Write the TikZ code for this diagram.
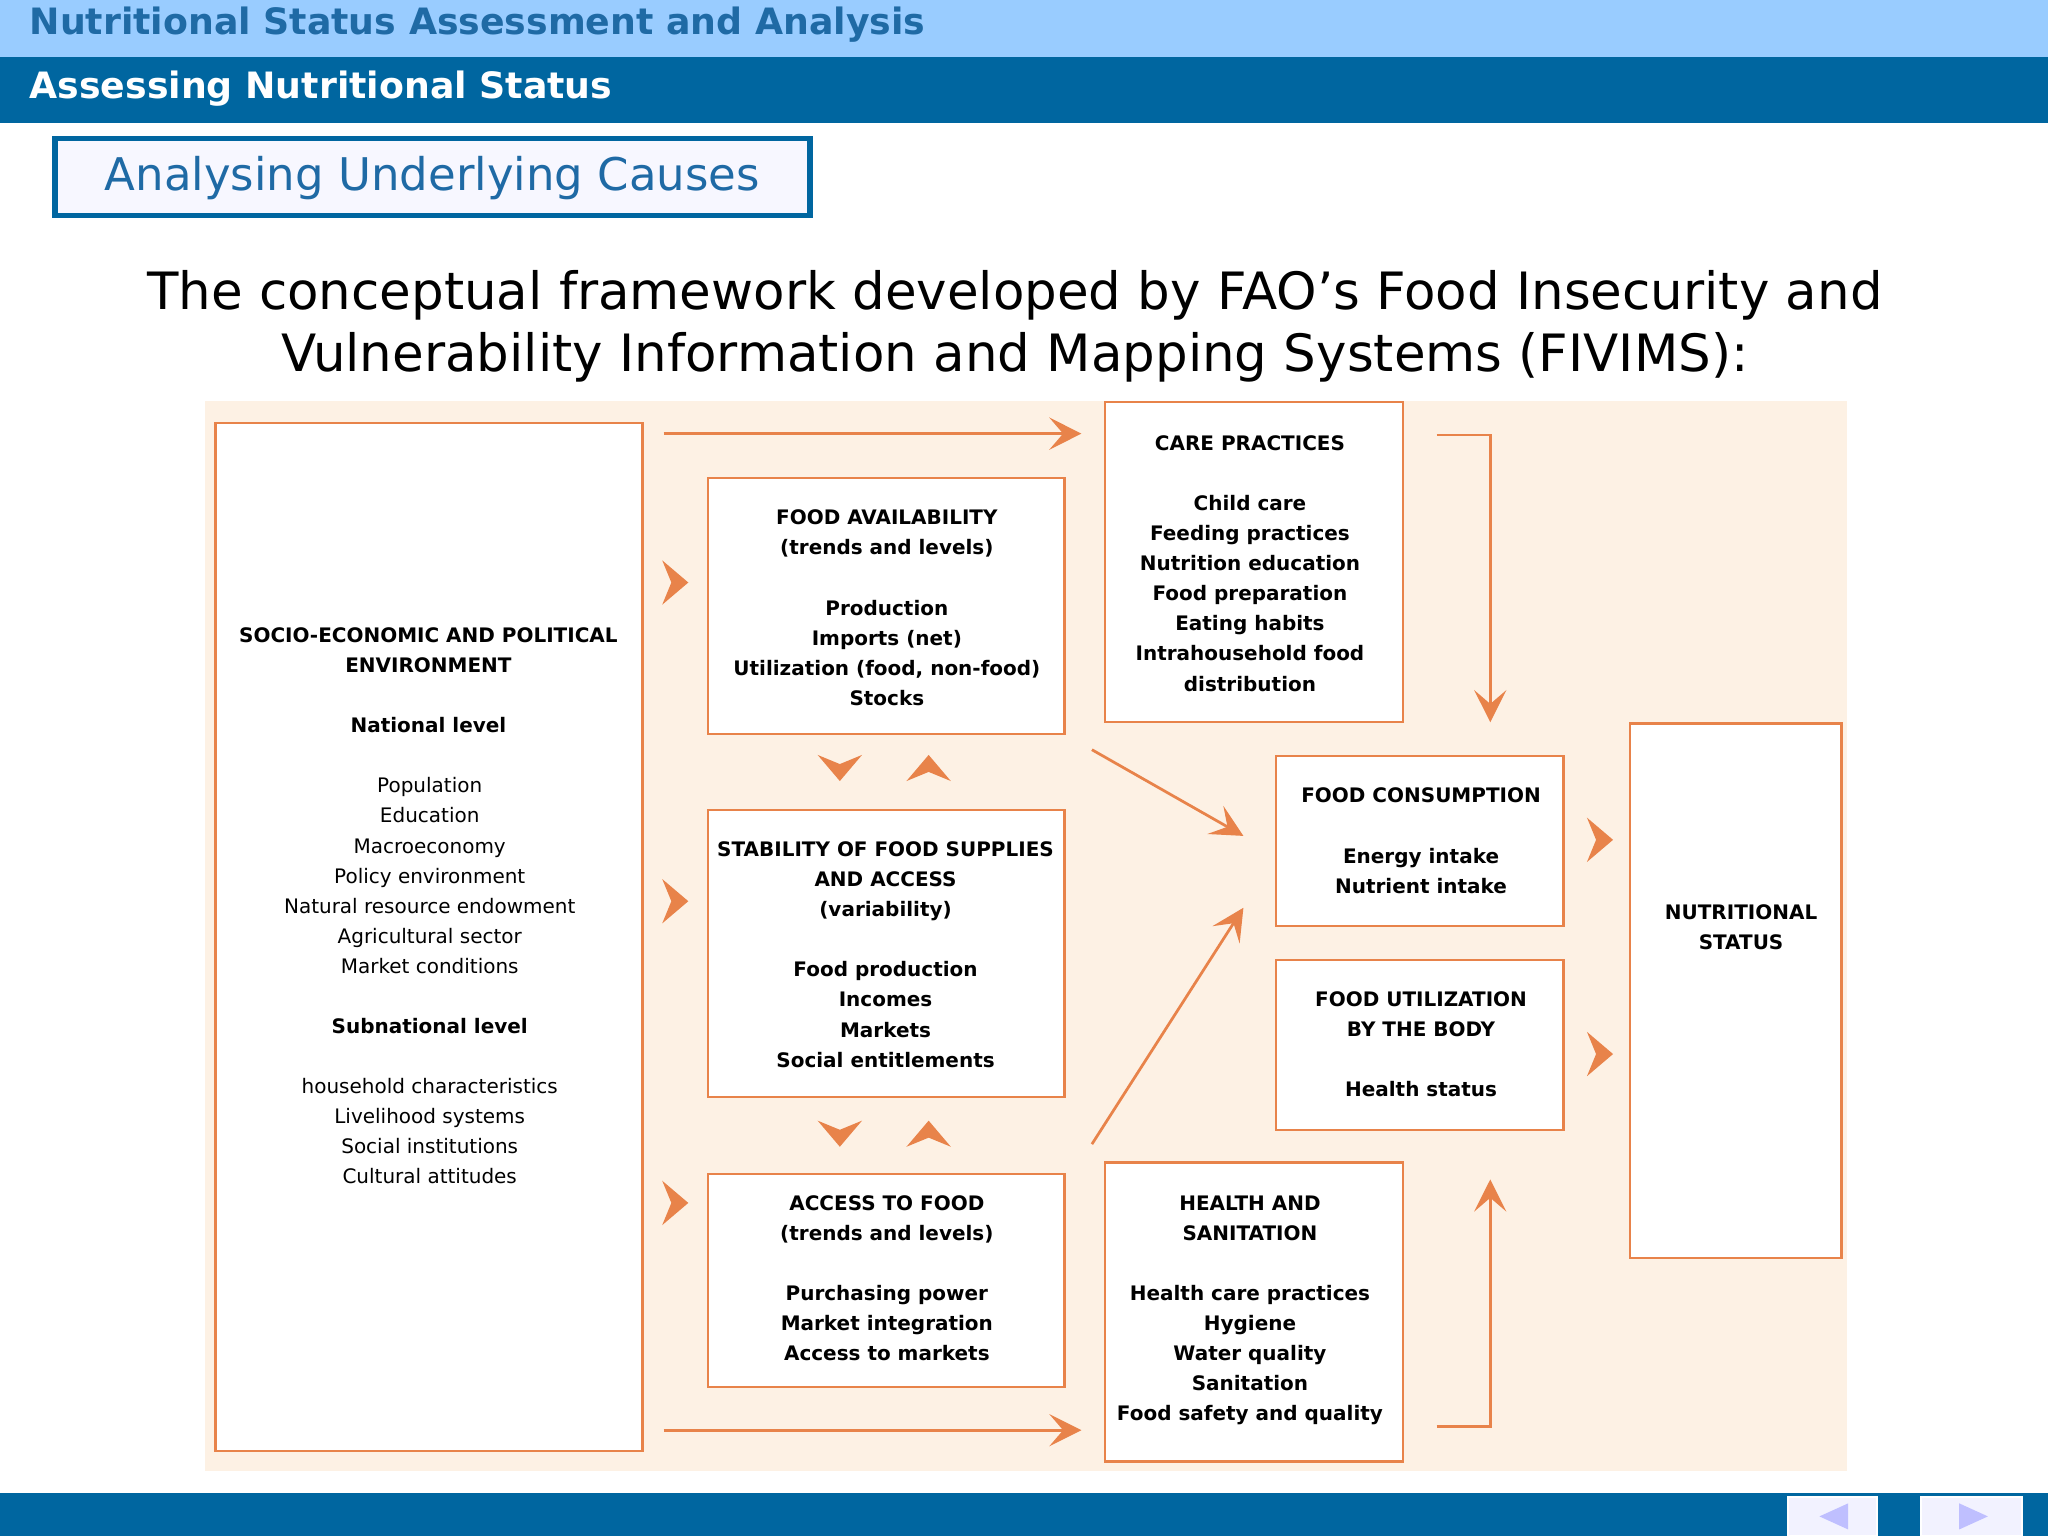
\documentclass[tikz,border=0pt]{standalone}
\usepackage{fontspec}
\setmainfont{DejaVu Sans}
\usetikzlibrary{arrows.meta}
\definecolor{lightband}{HTML}{99CCFF}
\definecolor{darkband}{HTML}{0066A0}
\definecolor{titleblue}{HTML}{1F6AA5}
\definecolor{peach}{HTML}{FDF1E4}
\definecolor{arrorange}{HTML}{E8834A}
\tikzset{
  box/.style={draw=arrorange, fill=white, line width=0.5pt, inner sep=0pt},
  boxtext/.style={align=center, font=\fontsize{4.35}{6.55}\selectfont\bfseries},
  plaintext/.style={align=center, font=\fontsize{4.35}{6.55}\selectfont},
  flow/.style={draw=arrorange, line width=0.6pt, -{Stealth[length=7pt, width=7pt, inset=3pt]}},
  pics/chev/.style={code={\fill[arrorange] (-10,-17) -- (10,0) -- (-10,17) -- (-3,0) -- cycle;}}
}
\begin{document}
\begin{tikzpicture}[x=0.01cm, y=-0.01cm]
  \useasboundingbox (0,0) rectangle (1568,1176);
  % header bands
  \fill[lightband] (0,0) rectangle (1568,44);
  \fill[darkband] (0,44) rectangle (1568,94);
  \node[anchor=west, inner sep=0pt, text=titleblue, font=\fontsize{7.9}{9}\selectfont\bfseries] (head) at (22,19) {Nutritional Status Assessment and Analysis};
  \node[anchor=west, inner sep=0pt, text=white, font=\fontsize{7.9}{9}\selectfont\bfseries] (sub) at (22,68) {Assessing Nutritional Status};
  \draw[darkband, line width=1.2pt, fill=blue!3] (42,106) rectangle (620,165);
  \node[text=titleblue, font=\fontsize{9.8}{11}\selectfont] (title) at (331,136) {Analysing Underlying Causes};
  \node[align=center, font=\fontsize{11.2}{13.5}\selectfont] (intro) at (777,250)
    {The conceptual framework developed by FAO’s Food Insecurity and\\Vulnerability Information and Mapping Systems (FIVIMS):};
  % bottom bar
  \fill[darkband] (0,1143) rectangle (1568,1176);
  \draw[white, fill=blue!5] (1369,1146) rectangle (1437,1176);
  \draw[white, fill=blue!5] (1471,1146) rectangle (1548,1176);
  \fill[blue!25] (1393,1161) -- (1415,1151) -- (1415,1171) -- cycle;
  \fill[blue!25] (1522,1161) -- (1500,1151) -- (1500,1171) -- cycle;
  % diagram background
  \fill[peach] (157,307) rectangle (1414,1126);
  % boxes
  \draw[box] (165,324) rectangle (492,1111);
  \draw[box] (542,366) rectangle (815,562);
  \draw[box] (542,620) rectangle (815,840);
  \draw[box] (542,899) rectangle (815,1062);
  \draw[box] (846,308) rectangle (1074,553);
  \draw[box] (846,890) rectangle (1074,1119);
  \draw[box] (977,579) rectangle (1197,709);
  \draw[box] (977,735) rectangle (1197,865);
  \draw[box] (1248,554) rectangle (1410,963);
  % texts
  \node[boxtext, anchor=north] (socio) at (328,468) {SOCIO-ECONOMIC AND POLITICAL\\ENVIRONMENT\\[6.55pt]National level};
  \node[plaintext, anchor=north] (natl) at (329,583) {Population\\Education\\Macroeconomy\\Policy environment\\Natural resource endowment\\Agricultural sector\\Market conditions};
  \node[boxtext, anchor=north] (subn) at (329,767) {Subnational level};
  \node[plaintext, anchor=north] (subl) at (329,813) {household characteristics\\Livelihood systems\\Social institutions\\Cultural attitudes};
  \node[boxtext, anchor=north] (avail) at (679,378) {FOOD AVAILABILITY\\(trends and levels)\\[6.55pt]Production\\Imports (net)\\Utilization (food, non-food)\\Stocks};
  \node[boxtext, anchor=north] (stab) at (678,632) {STABILITY OF FOOD SUPPLIES\\AND ACCESS\\(variability)\\[6.55pt]Food production\\Incomes\\Markets\\Social entitlements};
  \node[boxtext, anchor=north] (access) at (679,903) {ACCESS TO FOOD\\(trends and levels)\\[6.55pt]Purchasing power\\Market integration\\Access to markets};
  \node[boxtext, anchor=north] (care) at (957,321) {CARE PRACTICES\\[6.55pt]Child care\\Feeding practices\\Nutrition education\\Food preparation\\Eating habits\\Intrahousehold food\\distribution};
  \node[boxtext, anchor=north] (health) at (957,903) {HEALTH AND\\SANITATION\\[6.55pt]Health care practices\\Hygiene\\Water quality\\Sanitation\\Food safety and quality};
  \node[boxtext, anchor=north] (cons) at (1088,591) {FOOD CONSUMPTION\\[6.55pt]Energy intake\\Nutrient intake};
  \node[boxtext, anchor=north] (util) at (1088,747) {FOOD UTILIZATION\\BY THE BODY\\[6.55pt]Health status};
  \node[boxtext] (nutr) at (1333,710) {NUTRITIONAL\\STATUS};
  % connectors
  \coordinate (t0) at (508,332); \coordinate (t1) at (828,332);
  \coordinate (b0) at (508,1095); \coordinate (b1) at (828,1095);
  \draw[flow] (t0) -- (t1);
  \draw[flow] (b0) -- (b1);
  \coordinate (c0) at (1100,333); \coordinate (c1) at (1141,553);
  \coordinate (h0) at (1100,1092); \coordinate (h1) at (1141,903);
  \draw[flow] (c0) -| (c1);
  \draw[flow] (h0) -| (h1);
  \coordinate (d0) at (836,574); \coordinate (d1) at (952,640);
  \coordinate (u0) at (836,876); \coordinate (u1) at (952,695);
  \draw[flow] (d0) -- (d1);
  \draw[flow] (u0) -- (u1);
  % chevrons
  \foreach \y in {446,690,921} \pic at (517,\y) {chev};
  \foreach \y in {643,807} \pic at (1225,\y) {chev};
  \foreach \y in {588,868} {
    \pic[rotate=-90] at (643,\y) {chev};
    \pic[rotate=90] at (711,\y) {chev};
  }
\end{tikzpicture}
\end{document}
